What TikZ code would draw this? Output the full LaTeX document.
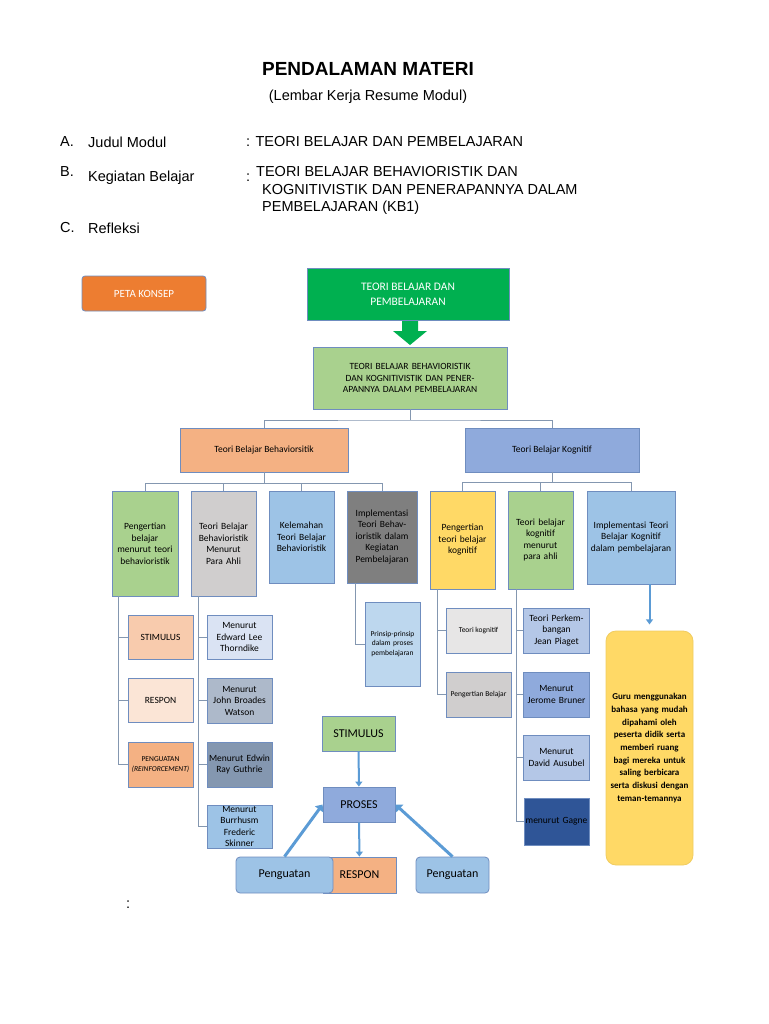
\documentclass[tikz,border=0pt]{standalone}
\usepackage{fontspec}
\setmainfont{Liberation Sans}
\newfontfamily\carl{Carlito}
\usetikzlibrary{positioning,arrows.meta}
\definecolor{bgreen}{HTML}{00B050}
\definecolor{lgreen}{HTML}{A9D18E}
\definecolor{salmon}{HTML}{F4B183}
\definecolor{lsalmon}{HTML}{F8CBAD}
\definecolor{psalmon}{HTML}{FBE5D6}
\definecolor{lila}{HTML}{8FAADC}
\definecolor{lblue}{HTML}{9DC3E6}
\definecolor{pblue}{HTML}{BDD7EE}
\definecolor{vblue}{HTML}{DAE3F3}
\definecolor{mblue}{HTML}{B4C7E7}
\definecolor{dblue}{HTML}{2F5597}
\definecolor{sgray}{HTML}{ADB9CA}
\definecolor{dgray}{HTML}{8497B0}
\definecolor{lgray}{HTML}{D0CECE}
\definecolor{vgray}{HTML}{E7E6E6}
\definecolor{mgray}{HTML}{7F7F7F}
\definecolor{gold}{HTML}{FFD966}
\definecolor{orng}{HTML}{ED7D31}
\definecolor{rim}{HTML}{6F8DBF}
\definecolor{arr}{HTML}{5B9BD5}
\tikzset{
  box/.style={draw=rim, line width=0.8pt, align=center, inner sep=1pt, font=\carl\fontsize{9.5}{11.5}\selectfont},
  small/.style={font=\carl\fontsize{7.5}{9.5}\selectfont},
  line/.style={draw=dgray, line width=0.8pt},
  fat/.style={draw=arr, line width=3pt, -{Triangle[length=6pt,width=10pt]}},
  txt/.style={anchor=west, inner sep=0pt, font=\fontsize{14.5}{17}\selectfont}
}
\begin{document}
\begin{tikzpicture}[x=1pt,y=-1pt]
  \useasboundingbox (0,0) rectangle (768,1024);
  % kepala
  \node[font=\bfseries\fontsize{19}{22}\selectfont] (judul) at (368,69) {PENDALAMAN MATERI};
  \node[font=\fontsize{14.5}{17}\selectfont] (sub) at (368,97) {(Lembar Kerja Resume Modul)};
  \node[txt] (a) at (60,142) {A.};
  \node[txt] (aa) at (88,142) {Judul Modul};
  \node[txt] (ab) at (246,142) {: TEORI BELAJAR DAN PEMBELAJARAN};
  \node[txt] (b) at (60,172) {B.};
  \node[txt] (ba) at (88,178) {Kegiatan Belajar};
  \node[txt] (bb) at (246,178) {:};
  \node[txt] (b1) at (256,172) {TEORI BELAJAR BEHAVIORISTIK DAN};
  \node[txt] (b2) at (262,190) {KOGNITIVISTIK DAN PENERAPANNYA DALAM};
  \node[txt] (b3) at (262,208) {PEMBELAJARAN (KB1)};
  \node[txt] (c) at (60,228) {C.};
  \node[txt] (ca) at (88,228) {Refleksi};
  \node[txt] (titik) at (126,905) {:};

  % peta
  \node[box, draw=rim, fill=orng, text=white, rounded corners=3pt, minimum width=124, minimum height=35, font=\carl\fontsize{11}{13}\selectfont] (peta) at (144,293.5) {PETA KONSEP};
  \node[box, draw=rim, fill=bgreen, text=white, minimum width=202, minimum height=52, font=\carl\fontsize{11.5}{15}\selectfont] (top) at (408,294) {TEORI BELAJAR DAN\\PEMBELAJARAN};
  \fill[bgreen] (402,321) -- (418,321) -- (418,331) -- (427,331) -- (410,345) -- (393,331) -- (402,331) -- cycle;
  \node[box, fill=lgreen, minimum width=194, minimum height=62, text width=188] (kb) at (410,378) {TEORI BELAJAR BEHAVIORISTIK DAN KOGNITIVISTIK DAN PENERAPANNYA DALAM PEMBELAJARAN};
  \node[box, fill=salmon, minimum width=168, minimum height=44] (beh) at (264,450) {Teori Belajar Behaviorsitik};
  \node[box, fill=lila, minimum width=174, minimum height=44] (kog) at (552,450) {Teori Belajar Kognitif};
  \coordinate (kbb) at (410,420);
  \draw[line] (kb.south) -- (kbb);
  \draw[line] (beh.north) |- (kbb) -| (kog.north);

  % behavioristik
  \node[box, fill=lgreen, minimum width=66, minimum height=105, text width=62] (c1) at (145,543.5) {Pengertian belajar menurut teori behavioristik};
  \node[box, fill=lgray, minimum width=65, minimum height=105, text width=62] (c2) at (223.5,543.5) {Teori Belajar Behavioristik Menurut Para Ahli};
  \node[box, fill=lblue, minimum width=65, minimum height=92, text width=62] (c3) at (301.5,537) {Kelemahan Teori Belajar Behavioristik};
  \node[box, fill=mgray, minimum width=70, minimum height=92, text width=66] (c4) at (382,537) {Implementasi Teori Behavioristik dalam Kegiatan Pembelajaran};
  \coordinate (bhb) at (264,483);
  \draw[line] (beh.south) -- (bhb);
  \foreach \n in {c1,c2,c3,c4} \draw[line] (\n.north) |- (bhb);

  \node[box, fill=lsalmon, minimum width=65, minimum height=44] (st) at (160.5,637) {STIMULUS};
  \node[box, fill=psalmon, minimum width=65, minimum height=44] (rs) at (160.5,700) {RESPON};
  \node[box, small, fill=salmon, minimum width=65, minimum height=45] (pg) at (160.5,764.5) {PENGUATAN\\\textit{(REINFORCEMENT)}};
  \coordinate (c1r) at (118,596);
  \foreach \n in {st,rs,pg} \draw[line] (\n.west) -| (c1r);

  \node[box, fill=vblue, minimum width=65, minimum height=44, text width=62] (th) at (239.5,637) {Menurut Edward Lee Thorndike};
  \node[box, fill=sgray, minimum width=65, minimum height=45, text width=62] (wa) at (239.5,700.5) {Menurut John Broades Watson};
  \node[box, fill=dgray, minimum width=65, minimum height=45, text width=62] (gu) at (239.5,764.5) {Menurut Edwin Ray Guthrie};
  \node[box, fill=lblue, minimum width=65, minimum height=43, text width=62] (sk) at (239.5,826.5) {Menurut Burrhusm Frederic Skinner};
  \coordinate (c2r) at (198,596);
  \foreach \n in {th,wa,gu,sk} \draw[line] (\n.west) -| (c2r);

  \node[box, small, fill=pblue, minimum width=55, minimum height=84, text width=52] (pr) at (392.5,644) {Prinsip-prinsip dalam proses pembelajaran};
  \coordinate (c4r) at (355,583);
  \draw[line] (pr.west) -| (c4r);

  % kognitif
  \node[box, fill=gold, minimum width=65, minimum height=98, text width=62] (k1) at (462.5,540) {Pengertian teori belajar kognitif};
  \node[box, fill=lgreen, minimum width=65, minimum height=98, text width=62] (k2) at (540.5,540) {Teori belajar kognitif menurut para ahli};
  \node[box, fill=lblue, minimum width=88, minimum height=93, text width=86] (k3) at (631,537.5) {Implementasi Teori Belajar Kognitif dalam pembelajaran};
  \coordinate (kgb) at (552,482);
  \draw[line] (kog.south) -- (kgb);
  \foreach \n in {k1,k2,k3} \draw[line] (\n.north) |- (kgb);

  \node[box, small, fill=vgray, minimum width=65, minimum height=45] (tk) at (478.5,630.5) {Teori kognitif};
  \node[box, small, fill=lgray, minimum width=65, minimum height=45] (pb) at (478.5,694.5) {Pengertian Belajar};
  \coordinate (k1r) at (437,589);
  \foreach \n in {tk,pb} \draw[line] (\n.west) -| (k1r);

  \node[box, fill=mblue, minimum width=65, minimum height=45, text width=64] (pi) at (556.5,630.5) {Teori Perkembangan Jean Piaget};
  \node[box, fill=lila, minimum width=65, minimum height=45, text width=64] (br) at (556.5,694.5) {Menurut Jerome Bruner};
  \node[box, fill=mblue, minimum width=65, minimum height=45, text width=64] (au) at (556.5,757.5) {Menurut David Ausubel};
  \node[box, fill=dblue, minimum width=65, minimum height=47, text width=62] (ga) at (556.5,821.5) {menurut Gagne};
  \coordinate (k2r) at (516,589);
  \foreach \n in {pi,br,au,ga} \draw[line] (\n.west) -| (k2r);

  \node[box, draw=gold!80!black!30!gold, fill=gold, rounded corners=10pt, minimum width=87, minimum height=234, text width=84, font=\carl\bfseries\fontsize{9}{12.7}\selectfont] (guru) at (649.5,748) {Guru menggunakan bahasa yang mudah dipahami oleh peserta didik serta memberi ruang bagi mereka untuk saling berbicara serta diskusi dengan teman-temannya};
  \draw[draw=arr, line width=2pt, -{Triangle[length=5pt,width=7pt]}] (k3.south -| guru.north) -- ++(0,40);

  % siklus
  \node[box, fill=lgreen, minimum width=73, minimum height=35, font=\carl\fontsize{12}{14}\selectfont] (sti) at (358.5,733.5) {STIMULUS};
  \node[box, fill=lila, minimum width=72, minimum height=35, font=\carl\fontsize{12}{14}\selectfont] (pro) at (359,804.5) {PROSES};
  \node[box, fill=salmon, minimum width=73, minimum height=36, font=\carl\fontsize{12}{14}\selectfont] (res) at (359.5,875) {RESPON};
  \node[box, fill=lblue, rounded corners=4pt, minimum width=97, minimum height=36, font=\carl\fontsize{12}{14}\selectfont] (pkl) at (284.5,875) {Penguatan};
  \node[box, fill=lblue, rounded corners=4pt, minimum width=73, minimum height=36, font=\carl\fontsize{12}{14}\selectfont] (pkr) at (452.5,875) {Penguatan};
  \draw[draw=arr, line width=2pt, -{Triangle[length=5pt,width=7pt]}] (sti) -- (pro);
  \draw[draw=arr, line width=2pt, -{Triangle[length=5pt,width=7pt]}] (pro) -- (res);
  \draw[fat] (pkl.north) -- (pro.west);
  \draw[fat] (pkr.north) -- (pro.east);
\end{tikzpicture}
\end{document}
